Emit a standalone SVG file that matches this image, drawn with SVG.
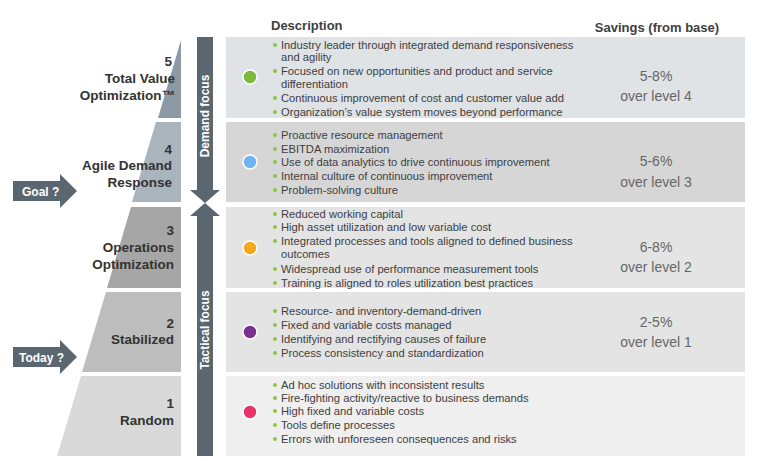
<svg xmlns="http://www.w3.org/2000/svg" width="758" height="461" viewBox="0 0 758 461">
<style>
text{font-family:"Liberation Sans",Arial,sans-serif}
.lab{font-size:13.5px;font-weight:bold;fill:#333;text-anchor:end}
.b{font-size:11.2px;fill:#404040}
.sv{font-size:14px;fill:#666;text-anchor:middle}
.hd{font-size:13px;font-weight:bold;fill:#404040}
.dot{stroke:#fff;stroke-width:1.5}
.vt{font-size:12px;font-weight:bold;fill:#fff;text-anchor:middle}
.ar{fill:#5b6770}
</style>
<defs><circle id="bl" r="2" fill="#8dc63f"/></defs>
<rect width="758" height="461" fill="#fff"/>
<text class="hd" x="271" y="30">Description</text>
<text class="hd" x="657" y="32" text-anchor="middle">Savings (from base)</text>

<g id="level5">
<polygon points="181,40 181,118 158,118" fill="#8c9aa5"/>
<rect x="226" y="37" width="519" height="81" fill="#dfe3e6"/>
<text class="lab" x="172" y="66">5</text><text class="lab" x="175" y="83">Total Value</text><text class="lab" x="175" y="100">Optimization™</text>
<circle class="dot" cx="250" cy="77" r="7" fill="#7cb83a"/>
<g class="b"><use href="#bl" x="275" y="45"/><text x="281" y="49">Industry leader through integrated demand responsiveness</text><text x="281" y="61">and agility</text>
<use href="#bl" x="275" y="71"/><text x="281" y="75">Focused on new opportunities and product and service</text><text x="281" y="88">differentiation</text>
<use href="#bl" x="275" y="98"/><text x="281" y="102">Continuous improvement of cost and customer value add</text>
<use href="#bl" x="275" y="112"/><text x="281" y="116">Organization’s value system moves beyond performance</text></g>
<text class="sv" x="656" y="81">5-8%</text><text class="sv" x="656" y="101">over level 4</text>
</g>

<g id="level4">
<polygon points="181,122 181,202 132,202 156,122" fill="#a9b4bc"/>
<rect x="226" y="122" width="519" height="80" fill="#d6d6d6"/>
<text class="lab" x="172" y="154">4</text><text class="lab" x="172" y="170">Agile Demand</text><text class="lab" x="172" y="187">Response</text>
<circle class="dot" cx="250" cy="162" r="7" fill="#6fb3f5"/>
<g class="b"><use href="#bl" x="275" y="135"/><text x="281" y="139">Proactive resource management</text>
<use href="#bl" x="275" y="149"/><text x="281" y="153">EBITDA maximization</text>
<use href="#bl" x="275" y="162"/><text x="281" y="166">Use of data analytics to drive continuous improvement</text>
<use href="#bl" x="275" y="176"/><text x="281" y="180">Internal culture of continuous improvement</text>
<use href="#bl" x="275" y="190"/><text x="281" y="194">Problem-solving culture</text></g>
<text class="sv" x="656" y="166">5-6%</text><text class="sv" x="656" y="187">over level 3</text>
</g>

<g id="level3">
<polygon points="181,207 181,288 107,288 131,207" fill="#a6a6a6"/>
<rect x="226" y="207" width="519" height="81" fill="#e4e4e4"/>
<text class="lab" x="174" y="235">3</text><text class="lab" x="174" y="252">Operations</text><text class="lab" x="174" y="269">Optimization</text>
<circle class="dot" cx="250" cy="248" r="7" fill="#f5a81d"/>
<g class="b"><use href="#bl" x="275" y="214"/><text x="281" y="218">Reduced working capital</text>
<use href="#bl" x="275" y="227"/><text x="281" y="231">High asset utilization and low variable cost</text>
<use href="#bl" x="275" y="241"/><text x="281" y="245">Integrated processes and tools aligned to defined business</text><text x="281" y="258">outcomes</text>
<use href="#bl" x="275" y="269"/><text x="281" y="273">Widespread use of performance measurement tools</text>
<use href="#bl" x="275" y="283"/><text x="281" y="287">Training is aligned to roles utilization best practices</text></g>
<text class="sv" x="656" y="252">6-8%</text><text class="sv" x="656" y="272">over level 2</text>
</g>

<g id="level2">
<polygon points="181,292 181,372 82,372 106,292" fill="#bdbdbd"/>
<rect x="226" y="292" width="519" height="80" fill="#e4e4e4"/>
<text class="lab" x="174" y="328">2</text><text class="lab" x="174" y="344">Stabilized</text>
<circle class="dot" cx="250" cy="332" r="7" fill="#7b2f8f"/>
<g class="b"><use href="#bl" x="275" y="311"/><text x="281" y="315">Resource- and inventory-demand-driven</text>
<use href="#bl" x="275" y="325"/><text x="281" y="329">Fixed and variable costs managed</text>
<use href="#bl" x="275" y="339"/><text x="281" y="343">Identifying and rectifying causes of failure</text>
<use href="#bl" x="275" y="353"/><text x="281" y="357">Process consistency and standardization</text></g>
<text class="sv" x="656" y="327">2-5%</text><text class="sv" x="656" y="347">over level 1</text>
</g>

<g id="level1">
<polygon points="181,376 181,456 57,456 81,376" fill="#d9d9d9"/>
<rect x="226" y="376" width="519" height="80" fill="#efefef"/>
<text class="lab" x="174" y="408">1</text><text class="lab" x="174" y="425">Random</text>
<circle class="dot" cx="250" cy="412" r="7" fill="#e6336a"/>
<g class="b"><use href="#bl" x="275" y="385"/><text x="281" y="389">Ad hoc solutions with inconsistent results</text>
<use href="#bl" x="275" y="398"/><text x="281" y="402">Fire-fighting activity/reactive to business demands</text>
<use href="#bl" x="275" y="411"/><text x="281" y="415">High fixed and variable costs</text>
<use href="#bl" x="275" y="425"/><text x="281" y="429">Tools define processes</text>
<use href="#bl" x="275" y="439"/><text x="281" y="443">Errors with unforeseen consequences and risks</text></g>
</g>

<g id="connectors">
<polygon class="ar" points="197,37 213,37 213,190 220,190 205,203 190,190 197,190"/>
<polygon class="ar" points="197,456 213,456 213,216 220,216 205,203 190,216 197,216"/>
<polygon class="ar" points="13,181 60,181 60,174 77,191 60,208 60,201 13,201"/>
<polygon class="ar" points="13,347 60,347 60,340 77,357 60,374 60,367 13,367"/>
</g>
<text class="vt" transform="translate(209,116) rotate(-90)">Demand focus</text>
<text class="vt" transform="translate(209,330) rotate(-90)">Tactical focus</text>
<text x="22" y="196" font-size="12" font-weight="bold" fill="#fff">Goal ?</text>
<text x="19" y="362" font-size="12" font-weight="bold" fill="#fff">Today ?</text>
</svg>
